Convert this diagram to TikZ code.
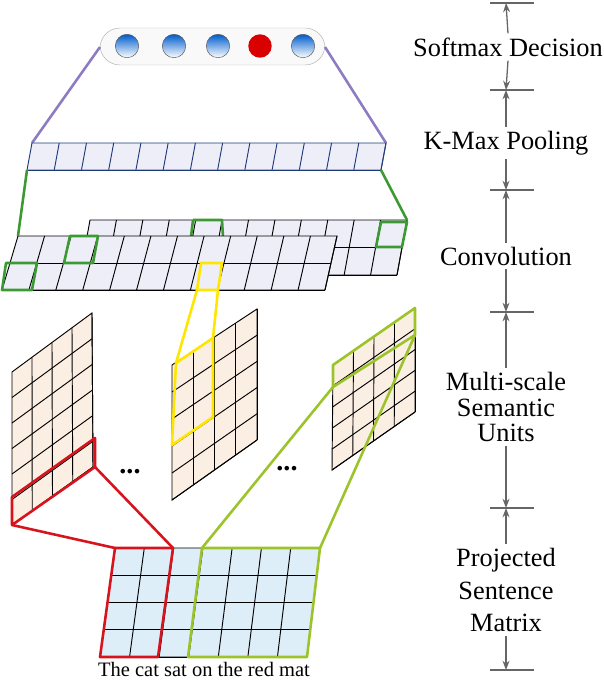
\documentclass[tikz,border=0pt]{standalone}
\usepackage{fontspec}
\setmainfont{Liberation Serif}
\usetikzlibrary{arrows.meta,calc}

\definecolor{mred}{HTML}{D7141E}
\definecolor{mgreen}{HTML}{3C9A32}
\definecolor{mlime}{HTML}{9DC32B}
\definecolor{myellow}{HTML}{FFE600}
\definecolor{mpurple}{HTML}{8E7CC3}
\definecolor{mnavy}{HTML}{1F3A7A}
\definecolor{lav}{HTML}{EEEEF8}
\definecolor{peach}{HTML}{FBEEE2}
\definecolor{sky}{HTML}{DDEEF8}

% slanted grid: TL, TR, BR, BL, cols, rows, style
\newcommand\slgrid[7]{%
  \filldraw[#7] (#1)--(#2)--(#3)--(#4)--cycle;
  \foreach \i in {1,...,#5}{\pgfmathsetmacro\t{\i/#5}
    \draw[#7] ($(#1)!\t!(#2)$) -- ($(#4)!\t!(#3)$);}
  \foreach \j in {1,...,#6}{\pgfmathsetmacro\t{\j/#6}
    \draw[#7] ($(#1)!\t!(#4)$) -- ($(#2)!\t!(#3)$);}
}

\begin{document}
\begin{tikzpicture}[x=0.03cm,y=-0.03cm,>=Stealth,
  every node/.style={font=\fontsize{22.5}{25}\selectfont},
  hl/.style={line width=2.2pt,line join=round},
  stage/.style={gray!80!black,line width=1.1pt},
  ball/.style={circle,draw=gray!70!black,minimum size=20,inner sep=0pt,top color=blue!55!cyan!80!black,bottom color=white}]
\useasboundingbox (0,0) rectangle (603,680);

% softmax layer
\draw[gray!60,fill=gray!5,rounded corners=17] (100,28) rectangle (325,65);
\foreach \x/\n in {127/a,174/b,218/c,303/e}
  \node[ball] (out\n) at (\x,46) {};
\node[circle,fill=red!85!black,minimum size=20,inner sep=0pt] (outd) at (260,46) {};

% k-max pooling
\coordinate (kTL) at (32,143); \coordinate (kTR) at (386,143);
\coordinate (kBR) at (381,170); \coordinate (kBL) at (27,170);
\draw[mpurple,hl] (100,47) -- (kTL);
\draw[mpurple,hl] (325,47) -- (kTR);
\slgrid{kTL}{kTR}{kBR}{kBL}{13}{1}{draw=mnavy,fill=lav,line width=0.8pt}

% convolution layers
\coordinate (bTL) at (90,220); \coordinate (bTR) at (407,220);
\coordinate (bBR) at (397,275); \coordinate (bBL) at (80,275);
\slgrid{bTL}{bTR}{bBR}{bBL}{12}{2}{draw=black,fill=lav,line width=0.8pt}
\draw[mgreen,hl] (193,220) -- (222,220) -- (223,237);
\draw[mgreen,hl] (193,220) -- (191,237);
\draw[mgreen,hl] (381,222) -- (407,222) -- (402,247) -- (376,247) -- cycle;
\coordinate (fTL) at (18,236); \coordinate (fTR) at (337,236);
\coordinate (fBR) at (325,290); \coordinate (fBL) at (2,290);
\slgrid{fTL}{fTR}{fBR}{fBL}{12}{2}{draw=black,fill=lav,line width=0.8pt}
\draw[mgreen,hl] (fBL) -- (6,263) -- (37,263) -- (32,290) -- cycle;
\draw[mgreen,hl] (70,236) -- (98,236) -- (93,263) -- (64,263) -- cycle;
\draw[mgreen,hl] (kBL) -- (18,236);
\draw[mgreen,hl] (kBR) -- (407,220);

% multi-scale semantic units
\coordinate (lTL) at (12,372); \coordinate (lTR) at (92,313);
\coordinate (lBR) at (93,467); \coordinate (lBL) at (12,525);
\slgrid{lTL}{lTR}{lBR}{lBL}{4}{6}{draw=black,fill=peach,line width=0.8pt}
\coordinate (mTL) at (172,365); \coordinate (mTR) at (257,309);
\coordinate (mBR) at (257,440); \coordinate (mBL) at (172,500);
\slgrid{mTL}{mTR}{mBR}{mBL}{4}{5}{draw=black,fill=peach,line width=0.8pt}
\coordinate (rTL) at (333,365); \coordinate (rTR) at (415,308);
\coordinate (rBR) at (415,412); \coordinate (rBL) at (332,470);
\slgrid{rTL}{rTR}{rBR}{rBL}{4}{5}{draw=black,fill=peach,line width=0.8pt}
\node[font=\fontsize{24}{24}\selectfont\bfseries] (dotsl) at (130,472) {...};
\node[font=\fontsize{24}{24}\selectfont\bfseries] (dotsr) at (287,469) {...};

% yellow link
\draw[myellow,hl] (201,263) -- (222,263) -- (218,290) -- (197,290) -- cycle;
\draw[myellow,hl] (197,290) -- (176,363) -- (172,445) -- (213,417) -- (213,338) -- (218,290);
\draw[myellow,hl] (176,363) -- (213,338);

% projected sentence matrix
\coordinate (sTL) at (115,548); \coordinate (sTR) at (320,548);
\coordinate (sBR) at (307,657); \coordinate (sBL) at (100,657);
\slgrid{sTL}{sTR}{sBR}{sBL}{7}{4}{draw=black,fill=sky,line width=0.8pt}
\draw[mred,hl] (sTL) -- (173,548) -- (158,657) -- (sBL) -- cycle;
\draw[mred,hl] (12,497) -- (95,438) -- (95,467) -- (12,525) -- cycle;
\draw[mred,hl] (12,525) -- (sTL);
\draw[mred,hl] (95,467) -- (173,548);
\draw[mlime,hl] (202,548) -- (sTR) -- (sBR) -- (188,657) -- cycle;
\draw[mlime,hl] (rTL) -- (rTR) -- (415,335) -- (333,387) -- cycle;
\draw[mlime,hl] (333,387) -- (202,548);
\draw[mlime,hl] (415,335) -- (sTR);
\node[font=\fontsize{17.5}{19}\selectfont] (words) at (204,669) {The cat sat on the red mat};

% stages on the right
\foreach \n/\y in {0/3,1/90,2/190,3/312,4/508,5/670}{
  \coordinate (t\n) at (506,\y);
  \draw[stage] (490,\y) -- (534,\y);}
\node (lsoft) at (508,47) {Softmax Decision};
\node (lpool) at (506,143) {K-Max Pooling};
\node (lconv) at (506,256) {Convolution};
\node[align=center,font=\fontsize{22.5}{22}\selectfont] (lunits) at (506,407) {Multi-scale\\Semantic\\Units};
\node[align=center,font=\fontsize{22.5}{28}\selectfont] (lproj) at (506,590) {Projected\\Sentence\\Matrix};
\draw[stage,->] (lsoft.north) -- (t0);
\draw[stage,->] (lsoft.south) -- (t1);
\draw[stage,->] (lpool.north) -- (t1);
\draw[stage,->] (lpool.south) -- (t2);
\draw[stage,->] (lconv.north) -- (t2);
\draw[stage,->] (lconv.south) -- (t3);
\draw[stage,->] (lunits.north) -- (t3);
\draw[stage,->] (lunits.south) -- (t4);
\draw[stage,->] (lproj.north) -- (t4);
\draw[stage,->] (lproj.south) -- (t5);
\end{tikzpicture}
\end{document}
